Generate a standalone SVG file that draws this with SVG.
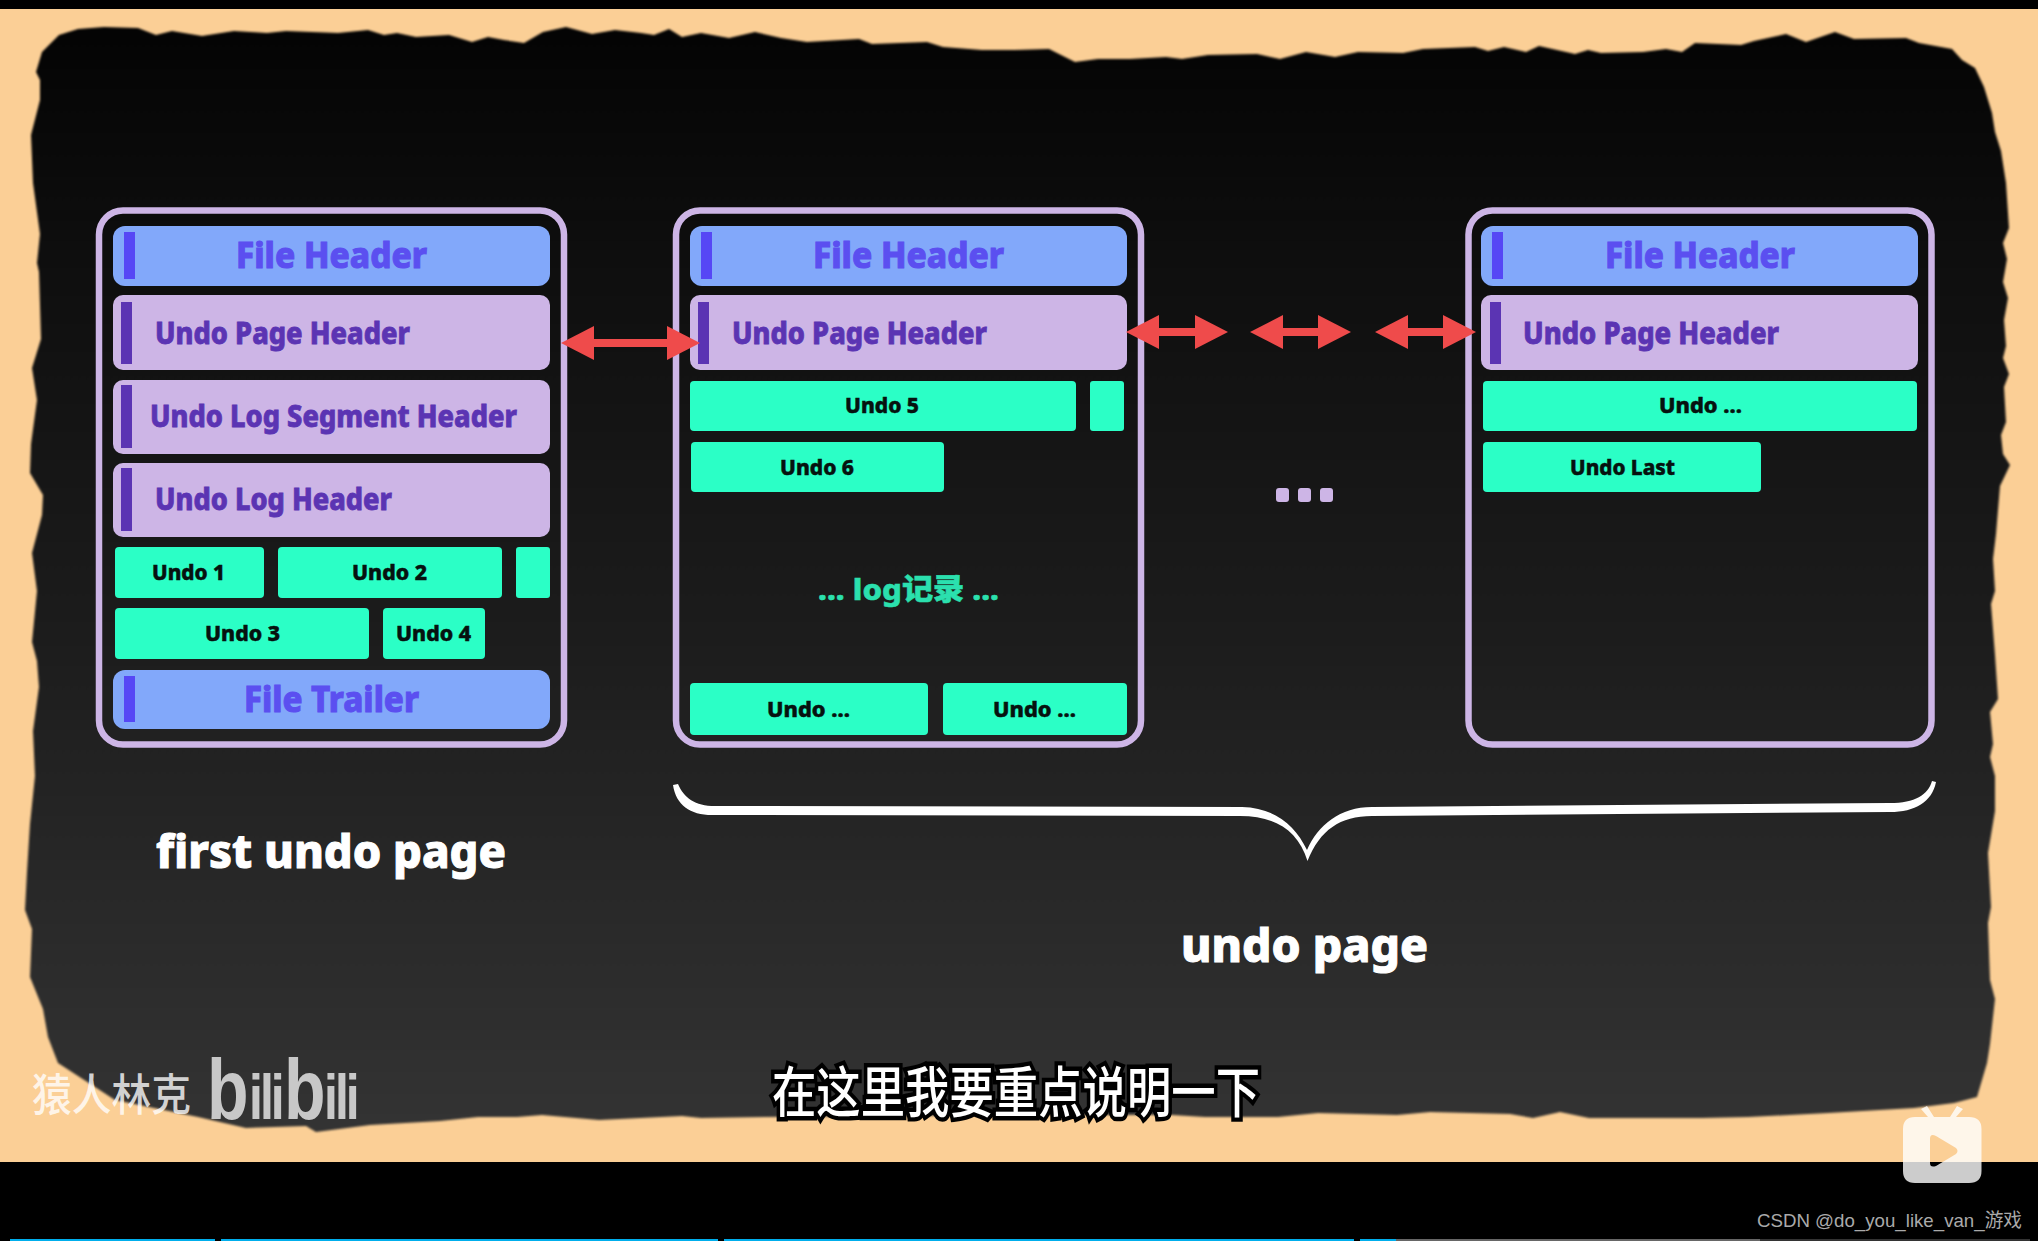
<svg xmlns="http://www.w3.org/2000/svg" width="2038" height="1241" viewBox="0 0 2038 1241">
<style>
text{font-family:"Noto Sans","Noto Sans CJK SC",sans-serif;font-weight:800}
.frame{fill:none;stroke:#CDB5E6;stroke-width:6.5}
.blue{fill:#82A8FA}
.lav{fill:#CDB5E6}
.green{fill:#2BFFC6}
.bbar{fill:#5647F5}
.pbar{fill:#5B34B3}
.ft{font-size:36px;fill:#5B4FF0;stroke:#5B4FF0;stroke-width:1}
.pt{font-size:30px;fill:#5B34B3;stroke:#5B34B3;stroke-width:.8}
.ut{font-size:21px;fill:#06120f;stroke:#06120f;stroke-width:.5}
.wt{font-size:46px;fill:#fff;stroke:#fff;stroke-width:1}
.cy{fill:#00AEEC}
</style>
<defs>
<linearGradient id="bg" x1="0" y1="30" x2="0" y2="1120" gradientUnits="userSpaceOnUse">
<stop offset="0" stop-color="#040404"/><stop offset="0.2" stop-color="#0e0e0e"/><stop offset="0.55" stop-color="#1c1c1c"/><stop offset="1" stop-color="#333333"/>
</linearGradient>
<filter id="soft" x="-2%" y="-2%" width="104%" height="104%" color-interpolation-filters="sRGB"><feGaussianBlur stdDeviation="0.9"/></filter>
<marker id="head" viewBox="0 -17 33 34" refX="0" refY="0" markerWidth="33" markerHeight="34" markerUnits="userSpaceOnUse" orient="auto-start-reverse"><path d="M0 -17L33 0L0 17Z" fill="#EF4B4B"/></marker>
</defs>

<rect width="2038" height="1241" fill="#000"/>
<rect y="9" width="2038" height="1153" fill="#FBCF96"/>
<path fill="url(#bg)" filter="url(#soft)" d="M40 100L40 80L36 72L42 52L59 35L78 29L104 27L138 28L156 35L172 31L202 36L234 31L267 33L286 31L338 33L368 30L384 35L397 33L416 37L449 35L472 42L488 37L504 40L524 43L543 32L566 27L592 34L615 30L641 33L654 35L669 29L682 37L701 33L729 38L755 32L781 38L807 42L859 39L872 44L927 42L943 47L982 50L1015 50L1049 49L1075 62L1098 59L1130 59L1166 57L1182 59L1208 55L1257 54L1280 59L1306 52L1335 57L1358 52L1403 53L1423 49L1475 47L1488 51L1504 47L1526 52L1539 46L1575 54L1588 50L1601 53L1643 52L1666 49L1682 52L1695 43L1741 45L1754 41L1786 34L1806 42L1835 32L1854 39L1906 38L1919 43L1952 49L1962 60L1975 68L1984 87L1992 113L1995 132L2001 151L2006 183L2009 228L2003 243L2007 259L2003 282L2008 298L2004 320L2006 346L2003 358L2009 374L2004 387L2006 422L2001 435L2003 454L2010 465L2000 486L1996 534L1993 559L1995 591L1991 604L1995 655L1998 699L1990 712L1993 744L1990 757L1995 776L1995 811L1988 853L1991 907L1988 923L1990 980L1995 999L1990 1044L1987 1063L1977 1097L1954 1103L1914 1108L1828 1113L1748 1117L1702 1118L1646 1118L1589 1118L1560 1112L1533 1118L1510 1114L1430 1112L1397 1115L1318 1113L1278 1117L1205 1117L1172 1115L1000 1115L765 1117L701 1118L682 1116L599 1120L542 1115L517 1117L478 1117L440 1121L370 1125L316 1132L306 1126L246 1128L198 1117L115 1100L58 1063L48 1037L43 1009L30 977L32 929L25 910L27 872L30 824L35 776L33 731L39 687L37 661L32 642L37 591L32 553L42 515L43 495L30 473L31 444L37 400L32 368L41 339L39 272L37 263L40 234L33 183L31 135Z"/>

<g id="first-undo-page">
<rect class="frame" x="99" y="210.500" width="465" height="534" rx="24"/>
<g id="fp-file-header"><rect class="blue" x="113" y="226" width="437" height="60" rx="12"/><rect class="bbar" x="124" y="232" width="11" height="47"/><text class="ft" x="236" y="268" textLength="191" lengthAdjust="spacingAndGlyphs">File Header</text></g>
<g id="fp-undo-page-header"><rect class="lav" x="113" y="295" width="437" height="75" rx="10"/><rect class="pbar" x="121" y="302" width="11" height="62"/><text class="pt" x="155" y="344" textLength="255" lengthAdjust="spacingAndGlyphs">Undo Page Header</text></g>
<g id="fp-undo-log-segment-header"><rect class="lav" x="113" y="380" width="437" height="74" rx="10"/><rect class="pbar" x="121" y="385" width="11" height="63"/><text class="pt" x="150" y="427" textLength="367" lengthAdjust="spacingAndGlyphs">Undo Log Segment Header</text></g>
<g id="fp-undo-log-header"><rect class="lav" x="113" y="463" width="437" height="74" rx="10"/><rect class="pbar" x="121" y="468" width="11" height="63"/><text class="pt" x="155" y="510" textLength="237" lengthAdjust="spacingAndGlyphs">Undo Log Header</text></g>
<g id="fp-undo-1"><rect class="green" x="115" y="547" width="149" height="51" rx="4"/><text class="ut" x="152" y="580" textLength="73" lengthAdjust="spacingAndGlyphs">Undo 1</text></g>
<g id="fp-undo-2"><rect class="green" x="278" y="547" width="224" height="51" rx="4"/><text class="ut" x="352" y="580" textLength="75" lengthAdjust="spacingAndGlyphs">Undo 2</text></g>
<g id="fp-undo-stub"><rect class="green" x="516" y="547" width="34" height="51" rx="3"/></g>
<g id="fp-undo-3"><rect class="green" x="115" y="608" width="254" height="51" rx="4"/><text class="ut" x="205" y="641" textLength="75" lengthAdjust="spacingAndGlyphs">Undo 3</text></g>
<g id="fp-undo-4"><rect class="green" x="383" y="608" width="102" height="51" rx="4"/><text class="ut" x="396" y="641" textLength="75" lengthAdjust="spacingAndGlyphs">Undo 4</text></g>
<g id="fp-file-trailer"><rect class="blue" x="113" y="670" width="437" height="59" rx="12"/><rect class="bbar" x="124" y="676" width="11" height="46"/><text class="ft" x="244" y="712" textLength="175" lengthAdjust="spacingAndGlyphs">File Trailer</text></g>
</g>

<g id="undo-page-2">
<rect class="frame" x="676" y="210.500" width="465" height="534" rx="24"/>
<g id="p2-file-header"><rect class="blue" x="690" y="226" width="437" height="60" rx="12"/><rect class="bbar" x="701" y="232" width="11" height="47"/><text class="ft" x="813" y="268" textLength="191" lengthAdjust="spacingAndGlyphs">File Header</text></g>
<g id="p2-undo-page-header"><rect class="lav" x="690" y="295" width="437" height="75" rx="10"/><rect class="pbar" x="698" y="302" width="11" height="62"/><text class="pt" x="732" y="344" textLength="255" lengthAdjust="spacingAndGlyphs">Undo Page Header</text></g>
<g id="p2-undo-5"><rect class="green" x="690" y="381" width="386" height="50" rx="4"/><text class="ut" x="845" y="413" textLength="74" lengthAdjust="spacingAndGlyphs">Undo 5</text></g>
<g id="p2-undo-stub"><rect class="green" x="1090" y="381" width="34" height="50" rx="3"/></g>
<g id="p2-undo-6"><rect class="green" x="691" y="442" width="253" height="50" rx="4"/><text class="ut" x="780" y="475" textLength="74" lengthAdjust="spacingAndGlyphs">Undo 6</text></g>
<g id="p2-log"><text x="818" y="600" font-size="29" fill="#2BE0AE" stroke="#2BE0AE" stroke-width=".5" textLength="181" lengthAdjust="spacingAndGlyphs">... log记录 ...</text></g>
<g id="p2-undo-a"><rect class="green" x="690" y="683" width="238" height="52" rx="4"/><text class="ut" x="767" y="717" textLength="83" lengthAdjust="spacingAndGlyphs">Undo ...</text></g>
<g id="p2-undo-b"><rect class="green" x="943" y="683" width="184" height="52" rx="4"/><text class="ut" x="993" y="717" textLength="83" lengthAdjust="spacingAndGlyphs">Undo ...</text></g>
</g>

<g id="undo-page-last">
<rect class="frame" x="1468.500" y="210.500" width="463" height="534" rx="24"/>
<g id="p3-file-header"><rect class="blue" x="1481" y="226" width="437" height="60" rx="12"/><rect class="bbar" x="1492" y="232" width="11" height="47"/><text class="ft" x="1605" y="268" textLength="190" lengthAdjust="spacingAndGlyphs">File Header</text></g>
<g id="p3-undo-page-header"><rect class="lav" x="1481" y="295" width="437" height="75" rx="10"/><rect class="pbar" x="1490" y="302" width="11" height="62"/><text class="pt" x="1523" y="344" textLength="256" lengthAdjust="spacingAndGlyphs">Undo Page Header</text></g>
<g id="p3-undo-more"><rect class="green" x="1483" y="381" width="434" height="50" rx="4"/><text class="ut" x="1659" y="413" textLength="83" lengthAdjust="spacingAndGlyphs">Undo ...</text></g>
<g id="p3-undo-last"><rect class="green" x="1483" y="442" width="278" height="50" rx="4"/><text class="ut" x="1570" y="475" textLength="105" lengthAdjust="spacingAndGlyphs">Undo Last</text></g>
</g>

<g id="connectors">
<line x1="594" y1="343" x2="667" y2="343" stroke="#EF4B4B" stroke-width="8" marker-start="url(#head)" marker-end="url(#head)"/>
<line x1="1159" y1="332" x2="1195" y2="332" stroke="#EF4B4B" stroke-width="8" marker-start="url(#head)" marker-end="url(#head)"/>
<line x1="1283" y1="332" x2="1318" y2="332" stroke="#EF4B4B" stroke-width="8" marker-start="url(#head)" marker-end="url(#head)"/>
<line x1="1408" y1="332" x2="1443" y2="332" stroke="#EF4B4B" stroke-width="8" marker-start="url(#head)" marker-end="url(#head)"/>
</g>

<g id="ellipsis">
<rect class="lav" x="1276" y="488" width="13" height="14" rx="3"/><rect class="lav" x="1298" y="488" width="13" height="14" rx="3"/><rect class="lav" x="1320" y="488" width="13" height="14" rx="3"/>
</g>

<g id="brace"><path fill="#fff" d="M673 785L678 784C684 798 695 806 715 806L1242 807C1275 808 1295 825 1307 850C1318 825 1340 807 1372 807L1890 803C1915 803 1928 795 1932 781L1936 782C1932 802 1915 812 1890 812L1372 816C1340 816 1320 830 1307.500 861C1298 830 1275 816 1240 816L712 815C690 815 676 805 673 785Z"/></g>

<g id="label-first"><text class="wt" x="156" y="868" textLength="350" lengthAdjust="spacingAndGlyphs">first undo page</text></g>
<g id="label-undo"><text class="wt" x="1181" y="962" textLength="247" lengthAdjust="spacingAndGlyphs">undo page</text></g>

<g id="watermark">
<text transform="translate(32 1111) scale(1 1.1)" font-size="40" fill="#fff" fill-opacity="0.78" style="font-family:'Noto Sans CJK SC',sans-serif;font-weight:500" textLength="159" lengthAdjust="spacingAndGlyphs">猿人林克</text>
<text transform="translate(0 1119) scale(1 1.25)" fill="#c8c8c8" style="font-family:'Liberation Sans',sans-serif;font-weight:700"><tspan x="207" font-size="68">b</tspan><tspan x="249" font-size="50" letter-spacing="-3">ili</tspan><tspan x="284" font-size="68">b</tspan><tspan x="324" font-size="50" letter-spacing="-3">ili</tspan></text>
</g>

<g id="subtitle">
<text transform="translate(772 1112) scale(1 1.25)" font-size="44" fill="#fff" stroke="#000" stroke-width="7" paint-order="stroke" style="font-family:'Noto Sans CJK SC',sans-serif;font-weight:500" textLength="488" lengthAdjust="spacingAndGlyphs">在这里我要重点说明一下</text>
</g>

<g id="player-icon" fill="#fff" fill-opacity="0.8">
<path fill-rule="evenodd" d="M1915 1117H1969Q1981.500 1117 1981.500 1129V1171Q1981.500 1183 1969 1183H1915Q1903 1183 1903 1171V1129Q1903 1117 1915 1117ZM1930 1139V1163Q1930 1168 1936 1166L1956 1154Q1959 1151 1956 1148L1936 1136Q1930 1133 1930 1139Z"/>
<path d="M1921 1109L1927 1106L1934 1117H1928ZM1963 1109L1957 1106L1950 1117H1956Z"/>
</g>

<g id="progress-bar">
<rect class="cy" x="10" y="1239" width="205" height="2"/>
<rect class="cy" x="221" y="1239" width="497" height="2"/>
<rect class="cy" x="724" y="1239" width="630" height="2"/>
<rect class="cy" x="1360" y="1239" width="36" height="2"/>
<rect x="1396" y="1239" width="364" height="2" fill="#666"/>
<rect x="1760" y="1239" width="270" height="2" fill="#333"/>
</g>

<g id="credit"><text x="1757" y="1227" font-size="19" fill="#aaaaaa" style="font-family:'Liberation Sans','Noto Sans CJK SC',sans-serif;font-weight:400" textLength="265" lengthAdjust="spacingAndGlyphs">CSDN @do_you_like_van_游戏</text></g>
</svg>
